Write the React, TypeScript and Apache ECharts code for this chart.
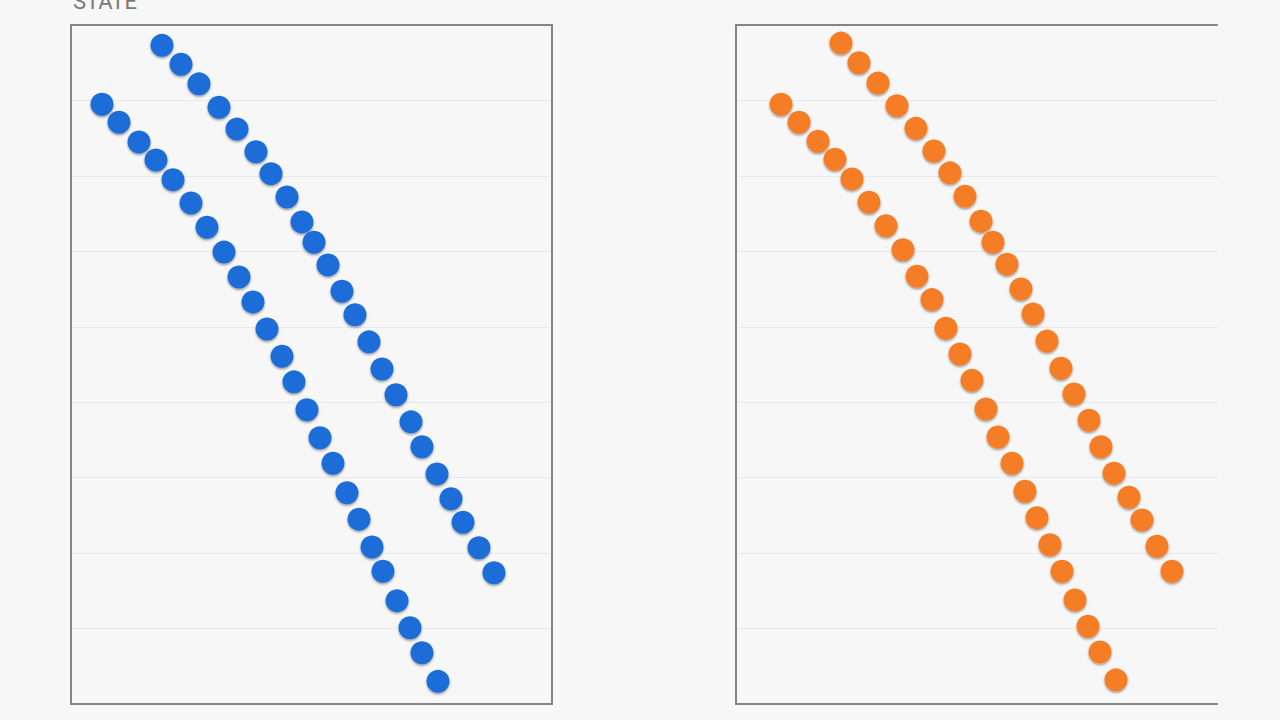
import React, { useEffect, useRef } from "react";
import * as echarts from "echarts";

// Left panel (blue) — x in 0..100 across the panel, y in 0..9 (bottom to top)
const blueUpperX = [18.92, 22.87, 26.61, 30.77, 34.51, 38.46, 41.58, 44.91, 48.02, 50.52, 53.43, 56.34, 59.04, 61.95, 64.66, 67.57, 70.69, 72.97, 76.09, 79.0, 81.5, 84.82, 87.94];
const blueUpperY = [8.73, 8.48, 8.22, 7.91, 7.62, 7.32, 7.03, 6.72, 6.39, 6.12, 5.82, 5.47, 5.16, 4.8, 4.44, 4.1, 3.74, 3.41, 3.05, 2.72, 2.41, 2.07, 1.74];
const blueLowerX = [6.44, 9.98, 14.14, 17.67, 21.21, 24.95, 28.27, 31.81, 34.93, 37.84, 40.75, 43.87, 46.36, 49.06, 51.77, 54.47, 57.38, 59.88, 62.58, 64.86, 67.78, 70.48, 72.97, 76.3];
const blueLowerY = [7.95, 7.71, 7.45, 7.21, 6.95, 6.64, 6.32, 5.99, 5.66, 5.33, 4.97, 4.61, 4.27, 3.9, 3.53, 3.19, 2.8, 2.45, 2.08, 1.76, 1.37, 1.01, 0.68, 0.3];

// Right panel (orange)
const orangeUpperX = [21.83, 25.57, 29.52, 33.47, 37.42, 41.16, 44.49, 47.61, 50.94, 53.43, 56.34, 59.25, 61.75, 64.66, 67.57, 70.27, 73.39, 75.88, 78.59, 81.7, 84.41, 87.53, 90.64];
const orangeUpperY = [8.76, 8.5, 8.23, 7.93, 7.63, 7.33, 7.04, 6.73, 6.4, 6.12, 5.83, 5.5, 5.17, 4.81, 4.45, 4.11, 3.76, 3.41, 3.06, 2.74, 2.44, 2.09, 1.76];
const orangeLowerX = [9.36, 13.1, 17.05, 20.58, 24.12, 27.65, 31.19, 34.72, 37.63, 40.75, 43.66, 46.57, 49.06, 51.98, 54.47, 57.38, 60.08, 62.58, 65.28, 67.78, 70.48, 73.18, 75.68, 79.0];
const orangeLowerY = [7.95, 7.71, 7.46, 7.22, 6.96, 6.65, 6.34, 6.02, 5.67, 5.36, 4.98, 4.64, 4.29, 3.91, 3.54, 3.19, 2.82, 2.47, 2.11, 1.76, 1.38, 1.03, 0.69, 0.32];

const headerText = "STATE";
const X_MIN = 0;
const X_MAX = 100;
const Y_MIN = 0;
const Y_MAX = 9;

const BLUE = "#1a6dd7";
const ORANGE = "#f47d26";
const BORDER = "#858585";

const zip = (xs: number[], ys: number[]) => xs.map((x, i) => [x, ys[i]]);

export default function App() {
  const ref = useRef<HTMLDivElement>(null);

  useEffect(() => {
    document.body.style.margin = "0";
    if (!ref.current) return;
    const chart = echarts.init(ref.current, undefined, { renderer: "svg" });

    const lineStyle = { color: BORDER, width: 2 };
    const hiddenAxisBits = {
      axisTick: { show: false },
      axisLabel: { show: false },
    };
    const mkX = (gridIndex: number, position: "bottom" | "top", showLine: boolean) => ({
      type: "value",
      gridIndex,
      position,
      min: X_MIN,
      max: X_MAX,
      axisLine: { show: showLine, onZero: false, lineStyle },
      splitLine: { show: false },
      ...hiddenAxisBits,
    });
    const mkY = (gridIndex: number, position: "left" | "right", showLine: boolean, split: boolean) => ({
      type: "value",
      gridIndex,
      position,
      min: Y_MIN,
      max: Y_MAX,
      interval: 1,
      axisLine: { show: showLine, onZero: false, lineStyle },
      splitLine: { show: split, lineStyle: { color: "#e9e9e9", width: 1 } },
      ...hiddenAxisBits,
    });

    const dot = (color: string) => ({
      color,
      opacity: 1,
      shadowColor: "rgba(0,0,0,0.4)",
      shadowBlur: 2,
      shadowOffsetY: 1.5,
    });

    chart.setOption({
      animation: false,
      backgroundColor: "#f7f7f7",
      graphic: [
        {
          type: "text",
          left: 73,
          top: -10,
          style: {
            text: headerText,
            fill: "#7a7a7a",
            font: "22px Roboto, 'Noto Sans', sans-serif",
          },
        },
      ],
      grid: [
        { left: 71, top: 25, width: 481, height: 679 },
        { left: 736, top: 25, width: 481, height: 679 },
      ],
      xAxis: [
        mkX(0, "bottom", true),
        mkX(0, "top", true),
        mkX(1, "bottom", true),
        mkX(1, "top", true),
      ],
      yAxis: [
        mkY(0, "left", true, true),
        mkY(0, "right", true, false),
        mkY(1, "left", true, true),
      ],
      series: [
        {
          type: "scatter",
          xAxisIndex: 0,
          yAxisIndex: 0,
          symbolSize: 23,
          itemStyle: dot(BLUE),
          data: zip(blueUpperX, blueUpperY),
        },
        {
          type: "scatter",
          xAxisIndex: 0,
          yAxisIndex: 0,
          symbolSize: 23,
          itemStyle: dot(BLUE),
          data: zip(blueLowerX, blueLowerY),
        },
        {
          type: "scatter",
          xAxisIndex: 2,
          yAxisIndex: 2,
          symbolSize: 23,
          itemStyle: dot(ORANGE),
          data: zip(orangeUpperX, orangeUpperY),
        },
        {
          type: "scatter",
          xAxisIndex: 2,
          yAxisIndex: 2,
          symbolSize: 23,
          itemStyle: dot(ORANGE),
          data: zip(orangeLowerX, orangeLowerY),
        },
      ],
    });

    return () => chart.dispose();
  }, []);

  return (
    <div
      ref={ref}
      style={{ position: "fixed", left: 0, top: 0, width: 1280, height: 720 }}
    />
  );
}
